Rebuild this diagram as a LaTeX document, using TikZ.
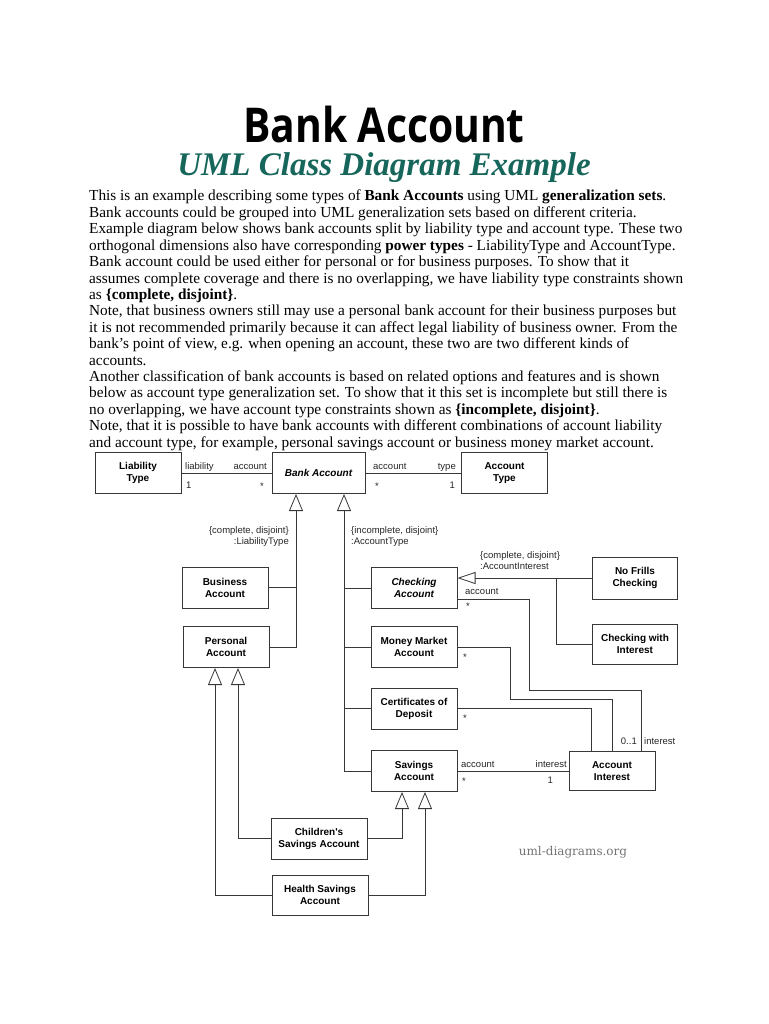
\documentclass[tikz,border=0pt]{standalone}
\usepackage{fontspec}
\setmainfont{Liberation Serif}
\newfontfamily\titlefont{Open Sans}
\newfontfamily\umlfont{Liberation Sans}
\newfontfamily\markfont{DejaVu Serif}
\usetikzlibrary{arrows.meta, positioning}
\definecolor{titleteal}{RGB}{23,102,92}
\definecolor{linegray}{RGB}{55,55,55}
\tikzstyle{classbox} = [rectangle, draw=linegray, line width=1pt, minimum width=86pt, minimum height=41pt, inner sep=1pt, align=center, font=\umlfont\bfseries\fontsize{10}{12}\selectfont]
\tikzstyle{role} = [inner sep=0pt, text=black!85, font=\umlfont\fontsize{9.5}{11.5}\selectfont]
\tikzstyle{assoc} = [draw=linegray, line width=0.8pt]
\tikzstyle{gen} = [assoc, -{Triangle[open, length=17pt, width=14pt]}]
\tikzstyle{bodyline} = [anchor=base west, inner sep=0pt, font=\fontsize{15.3}{16.4}\selectfont]

\begin{document}
\begin{tikzpicture}[x=1pt, y=-1pt]
            \useasboundingbox (0,0) rectangle (768,1024);
            % heading
            \node (title) [anchor=base, inner sep=0pt] at (384,143) {\scalebox{0.85}[1]{\titlefont\bfseries\fontsize{48}{50}\selectfont Bank Account}};
            \node (subtitle) [anchor=base, inner sep=0pt, text=titleteal] at (384,176) {\fontsize{33}{34}\selectfont\bfseries\itshape UML Class Diagram Example};
            % description
            \node (txt1) [bodyline] at (89,201) {This is an example describing some types of \textbf{Bank Accounts} using UML \textbf{generalization sets}.};
            \node (txt2) [bodyline] at (89,217.4) {Bank accounts could be grouped into UML generalization sets based on different criteria.};
            \node (txt3) [bodyline] at (89,233.8) {Example diagram below shows bank accounts split by liability type and account type. These two};
            \node (txt4) [bodyline] at (89,250.2) {orthogonal dimensions also have corresponding \textbf{power types} - LiabilityType and AccountType.};
            \node (txt5) [bodyline] at (89,266.6) {Bank account could be used either for personal or for business purposes. To show that it};
            \node (txt6) [bodyline] at (89,283) {assumes complete coverage and there is no overlapping, we have liability type constraints shown};
            \node (txt7) [bodyline] at (89,299.4) {as \textbf{\{complete, disjoint\}}.};
            \node (txt8) [bodyline] at (89,315.8) {Note, that business owners still may use a personal bank account for their business purposes but};
            \node (txt9) [bodyline] at (89,332.2) {it is not recommended primarily because it can affect legal liability of business owner. From the};
            \node (txt10) [bodyline] at (89,348.6) {bank's point of view, e.g. when opening an account, these two are two different kinds of};
            \node (txt11) [bodyline] at (89,365) {accounts.};
            \node (txt12) [bodyline] at (89,381.4) {Another classification of bank accounts is based on related options and features and is shown};
            \node (txt13) [bodyline] at (89,397.8) {below as account type generalization set. To show that it this set is incomplete but still there is};
            \node (txt14) [bodyline] at (89,414.2) {no overlapping, we have account type constraints shown as \textbf{\{incomplete, disjoint\}}.};
            \node (txt15) [bodyline] at (89,430.6) {Note, that it is possible to have bank accounts with different combinations of account liability};
            \node (txt16) [bodyline] at (89,447) {and account type, for example, personal savings account or business money market account.};

            % classes
            \node (liabType) [classbox] at (138,473) {Liability\\Type};
            \node (bankAcc) [classbox, minimum width=93pt, font=\umlfont\bfseries\itshape\fontsize{10}{12}\selectfont] at (318.5,473) {Bank Account};
            \node (accType) [classbox] at (504.5,473) {Account\\Type};
            \node (bizAcc) [classbox] at (225,587.5) {Business\\Account};
            \node (persAcc) [classbox] at (226,647) {Personal\\Account};
            \node (chkAcc) [classbox, font=\umlfont\bfseries\itshape\fontsize{10}{12}\selectfont] at (414,588) {Checking\\Account};
            \node (mmAcc) [classbox] at (414,647) {Money Market\\Account};
            \node (cdAcc) [classbox] at (414,708.5) {Certificates of\\Deposit};
            \node (savAcc) [classbox] at (414,771) {Savings\\Account};
            \node (accInt) [classbox, minimum height=39pt] at (612,771) {Account\\Interest};
            \node (nfChk) [classbox, minimum width=85pt, minimum height=42pt] at (635,578) {No Frills\\Checking};
            \node (cwiChk) [classbox, minimum width=85pt, minimum height=40pt] at (635,644) {Checking with\\Interest};
            \node (chSav) [classbox, minimum width=96pt] at (319,838.5) {Children's\\Savings Account};
            \node (hlSav) [classbox, minimum width=96pt, minimum height=40pt] at (320,895) {Health Savings\\Account};
            \coordinate (lTrunk) at (296,647);
            \coordinate (rTrunk) at (344,771);
            \coordinate (chkJoin) at (556,578);

            % associations
            \draw [assoc] (liabType) -- (bankAcc);
            \draw [assoc] (bankAcc) -- (accType);
            \draw [assoc] ([yshift=-11pt]chkAcc.east) -- (529,599) -- (529,690) -| ([xshift=29pt]accInt.north);
            \draw [assoc] (mmAcc.east) -- (510,647) -- (510,699) -| (accInt.north);
            \draw [assoc] (cdAcc.east) -| ([xshift=-21pt]accInt.north);
            \draw [assoc] (savAcc) -- (accInt);

            % generalizations
            \draw [gen] (persAcc.east) -- (lTrunk) -- (lTrunk |- bankAcc.south);
            \draw [assoc] (bizAcc.east) -- (bizAcc.east -| lTrunk);
            \draw [gen] (savAcc.west) -- (rTrunk) -- (rTrunk |- bankAcc.south);
            \draw [assoc] (chkAcc.west) -- (chkAcc.west -| rTrunk);
            \draw [assoc] (mmAcc.west) -- (mmAcc.west -| rTrunk);
            \draw [assoc] (cdAcc.west) -- (cdAcc.west -| rTrunk);
            \draw [gen, -{Triangle[open, length=18pt, width=12pt]}] (nfChk.west) -- ([yshift=10pt]chkAcc.east);
            \draw [assoc] (cwiChk.west) -| (chkJoin);
            \draw [gen] (chSav.west) -| ([xshift=12pt]persAcc.south);
            \draw [gen] (hlSav.west) -| ([xshift=-11pt]persAcc.south);
            \draw [gen] (chSav.east) -| ([xshift=-12pt]savAcc.south);
            \draw [gen] (hlSav.east) -| ([xshift=11pt]savAcc.south);

            % role names and multiplicities
            \node (rLiab) [role, anchor=base west] at (185,469) {liability};
            \node (rAcc1) [role, anchor=base east] at (267,469) {account};
            \node (mLiab) [role, anchor=base west] at (186,488) {1};
            \node (mAcc1) [role, anchor=base east] at (264,489) {*};
            \node (rAcc2) [role, anchor=base west] at (373,469) {account};
            \node (rType) [role, anchor=base east] at (456,469) {type};
            \node (mAcc2) [role, anchor=base west] at (375,489) {*};
            \node (mType) [role, anchor=base east] at (455,488) {1};
            \node (gsLiab) [role, anchor=north east, align=right] at (289,526) {\{complete, disjoint\}\\:LiabilityType};
            \node (gsType) [role, anchor=north west, align=left] at (351,526) {\{incomplete, disjoint\}\\:AccountType};
            \node (gsInt) [role, anchor=north west, align=left] at (480,551) {\{complete, disjoint\}\\:AccountInterest};
            \node (rAcc3) [role, anchor=base west] at (465,594) {account};
            \node (mAcc3) [role, anchor=base west] at (466,609) {*};
            \node (mAcc4) [role, anchor=base west] at (463,660) {*};
            \node (mAcc5) [role, anchor=base west] at (463,721) {*};
            \node (rAcc6) [role, anchor=base west] at (461,767) {account};
            \node (mAcc6) [role, anchor=base west] at (462,784) {*};
            \node (rInt6) [role, anchor=base east] at (567,767) {interest};
            \node (mInt6) [role, anchor=base east] at (553,783) {1};
            \node (mInt) [role, anchor=base east] at (637,744) {0..1};
            \node (rInt) [role, anchor=base west] at (644,744) {interest};

            % watermark
            \node (mark) [text=black!55, font=\markfont\fontsize{12}{13}\selectfont] at (573,852) {uml-diagrams.org};
        \end{tikzpicture}
\end{document}
